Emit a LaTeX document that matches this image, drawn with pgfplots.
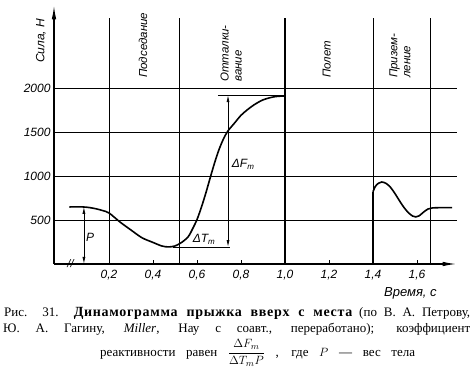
\documentclass[border=0pt]{standalone}
\usepackage{fontspec}
\setmainfont{Liberation Serif}
\newfontfamily\dfont{Liberation Sans}
\newfontfamily\bfwide[LetterSpace=5]{Liberation Serif Bold}
\usepackage{pgfplots}
\pgfplotsset{compat=1.18}
\usetikzlibrary{arrows.meta}
\begin{document}
\begin{tikzpicture}[x=1pt,y=1pt]
\useasboundingbox (0,0) rectangle (474,375);
\begin{axis}[
  at={(54pt,111pt)}, anchor=south west,
  scale only axis, width=402.6pt, height=258.7pt,
  xmin=-0.05, xmax=1.78, ymin=0, ymax=2940,
  axis lines=left, clip=false,
  axis line style={line width=1.3pt, -{Latex[length=14pt,width=4.5pt]}},
  xtick={0.2,0.4,0.6,0.8,1.0,1.2,1.4,1.6},
  xticklabels={{0,2},{0,4},{0,6},{0,8},{1,0},{1,2},{1,4},{1,6}},
  ytick={500,1000,1500,2000},
  yticklabels={500,1000,1500,2000},
  tick align=inside, major tick length=4pt,
  xtick style={line width=1pt, black},
  ytick style={draw=none},
  ymajorgrids, grid style={line width=0.9pt, black},
  /pgf/number format/assume math mode=true,
  ticklabel style={font=\dfont\itshape\fontsize{12}{13}\selectfont},
  xticklabel style={yshift=-3pt},
]
% vertical phase lines
\addplot[line width=1pt] coordinates {(0.2,0) (0.2,2800)};
\addplot[line width=1pt] coordinates {(0.52,0) (0.52,2800)};
\addplot[line width=1.2pt] coordinates {(1.0,0) (1.0,2800)};
\addplot[line width=1pt] coordinates {(1.4,0) (1.4,2800)};
\addplot[line width=1pt] coordinates {(1.66,0) (1.66,2800)};
% take-off phase
\addplot[line width=1.6pt, smooth, tension=0.5] coordinates {
(0.02,648)(0.06,650)(0.10,645)(0.14,628)(0.17,608)(0.20,580)(0.25,477)
(0.30,386)(0.35,298)(0.40,245)(0.44,205)(0.47,194)(0.50,205)(0.53,245)
(0.56,310)(0.58,400)(0.60,505)(0.62,645)(0.64,805)(0.66,980)(0.68,1150)
(0.70,1300)(0.72,1420)(0.74,1510)(0.77,1600)(0.80,1690)(0.83,1755)
(0.86,1810)(0.90,1865)(0.95,1900)(1.00,1910)};
% flight
\addplot[line width=1.6pt] coordinates {(1.0,1910)(1.0,0)(1.4,0)(1.4,820)};
% landing
\addplot[line width=1.6pt, smooth, tension=0.5] coordinates {
(1.40,820)(1.41,880)(1.425,918)(1.44,932)(1.46,915)(1.48,870)(1.50,800)
(1.52,720)(1.54,645)(1.56,585)(1.58,545)(1.595,535)(1.61,548)(1.63,590)
(1.65,625)(1.67,637)(1.70,640)(1.76,640)};
% annotations
\addplot[line width=0.8pt] coordinates {(0.695,1920)(1.0,1920)};
\addplot[line width=0.8pt] coordinates {(0.49,193)(0.75,193)};
\addplot[line width=0.8pt, {Latex[length=7pt,width=3pt]}-{Latex[length=7pt,width=3pt]}] coordinates {(0.741,193)(0.741,1920)};
\addplot[line width=0.8pt, {Latex[length=7pt,width=3pt]}-{Latex[length=7pt,width=3pt]}] coordinates {(0.086,0)(0.086,650)};
% labels
\node[font=\dfont\itshape\fontsize{12}{13}\selectfont] at (axis cs:0.81,1136) {ΔF\textsubscript{m}};
\node[font=\dfont\itshape\fontsize{12}{13}\selectfont] at (axis cs:0.632,284) {ΔT\textsubscript{m}};
\node[font=\dfont\itshape\fontsize{12}{13}\selectfont] at (axis cs:0.114,307) {P};
\node[font=\dfont\itshape\fontsize{11}{12}\selectfont, inner sep=0] at (axis cs:0.025,0) {//};
\node[font=\dfont\itshape\fontsize{13}{14}\selectfont] at (axis cs:1.57,-330) {Время, с};
\node[rotate=90, anchor=west, inner sep=0, font=\dfont\itshape\fontsize{12}{13}\selectfont] at (axis cs:-0.109,2284) {Сила, Н};
\node[rotate=90, anchor=west, inner sep=0, font=\dfont\itshape\fontsize{11.5}{13}\selectfont] at (axis cs:0.355,2114) {Подседание};
\node[rotate=90, anchor=west, inner sep=0, align=left, font=\dfont\itshape\fontsize{11.5}{13}\selectfont] at (axis cs:0.755,2070) {Отталки-\\вание};
\node[rotate=90, anchor=west, inner sep=0, font=\dfont\itshape\fontsize{11.5}{13}\selectfont] at (axis cs:1.19,2114) {Полет};
\node[rotate=90, anchor=west, inner sep=0, align=left, font=\dfont\itshape\fontsize{11.5}{13}\selectfont] at (axis cs:1.523,2114) {Призем-\\ление};
\end{axis}
% caption
\node[anchor=base west, inner sep=0, font=\fontsize{13}{15}\selectfont] at (4,58)
  {\makebox[466pt][s]{Рис. 31. {\bfwide\fontsize{14}{15}\selectfont Динамограмма прыжка вверх с места} (по В. А. Петрову,}};
\node[anchor=base west, inner sep=0, font=\fontsize{13}{15}\selectfont] at (3,42)
  {\makebox[467pt][s]{Ю. А. Гагину, \textit{Miller}, Нау с соавт., переработано); коэффициент}};
\node[anchor=base west, inner sep=0, font=\fontsize{13}{15}\selectfont] at (100,19)
  {\makebox[315pt][s]{реактивности равен $\displaystyle\frac{\Delta F_m}{\Delta T_m P}$ , где $P$ — вес тела}};
\end{tikzpicture}
\end{document}
